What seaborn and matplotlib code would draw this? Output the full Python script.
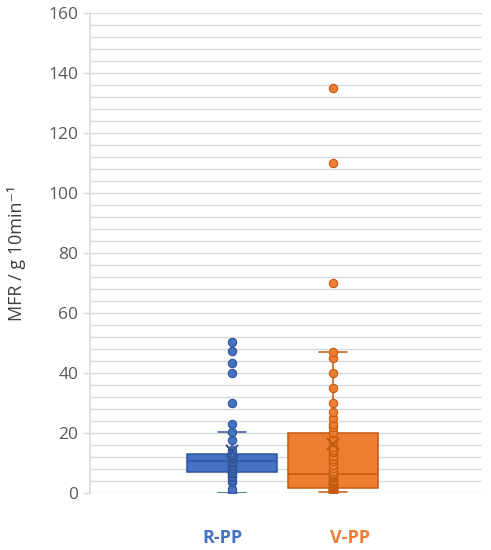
import numpy as np
import pandas as pd
import matplotlib
matplotlib.use('Agg')
import matplotlib.pyplot as plt
import seaborn as sns

# MFR values (many inner points overlap, so estimated)
grades = ['R-PP', 'V-PP']
r_pp = [0.0, 1.5, 3.8, 4.5, 5.2, 5.8, 6.4, 6.6, 6.9, 7.0, 7.1, 7.8, 8.5, 9.1,
        9.5, 10.0, 10.2, 10.5, 10.7, 10.8, 10.8, 11.2, 11.6, 11.9, 12.2, 12.5,
        12.7, 12.9, 13.0, 13.0, 13.0, 13.8, 14.3, 17.7, 20.4, 22.9, 29.9, 39.9,
        43.4, 47.3, 50.3]
v_pp = [0.2, 0.3, 0.5, 0.7, 0.9, 1.0, 1.2, 1.3, 1.4, 1.5, 1.6, 1.7, 1.7, 1.8,
        2.0, 2.3, 2.6, 2.9, 3.2, 3.6, 4.0, 4.5, 5.0, 5.4, 5.8, 6.0, 6.2,
        6.8, 7.5, 8.5, 9.5, 10.8, 11.5, 12.5, 13.8, 14.5, 15.5, 17.0, 18.0, 20.0,
        20.5, 21.9, 23.0, 24.9, 27.0, 29.9, 34.9, 39.9, 45.1, 46.9, 70.0, 110.0,
        135.0]
yticks = list(range(0, 161, 20))

fills = {'R-PP': '#4472C4', 'V-PP': '#ED7D31'}
edges = {'R-PP': '#2F5597', 'V-PP': '#C55A11'}

df = pd.DataFrame({
    'grade': ['R-PP'] * len(r_pp) + ['V-PP'] * len(v_pp),
    'mfr': r_pp + v_pp,
})

sns.set_style('white')
plt.rcParams['font.family'] = ['Open Sans', 'DejaVu Sans']

fig = plt.figure(figsize=(4.91, 5.50), dpi=100)
ax = fig.add_axes([0.1833, 0.1036, 0.7984, 0.8728])

for g in grades:
    sub = df[df['grade'] == g]
    sns.boxplot(data=sub, x='grade', y='mfr', order=grades, color=fills[g],
                linecolor=edges[g], linewidth=1.1, width=0.9, saturation=1,
                showfliers=False, showmeans=True, capwidths=0.27,
                meanprops=dict(marker='x', markeredgecolor=edges[g],
                               markersize=9, markeredgewidth=1.5, zorder=6),
                ax=ax)
    sns.stripplot(data=sub, x='grade', y='mfr', order=grades, color=fills[g],
                  edgecolor=edges[g], linewidth=0.8, size=6, jitter=False,
                  zorder=4, ax=ax)

ax.set_xlim(-1.406, 2.475)
ax.set_ylim(0, 160)
ax.set_yticks(yticks)
ax.set_yticks(np.arange(0, 161, 4), minor=True)
ax.grid(which='both', axis='y', color='#D9D9D9', lw=1)
ax.set_axisbelow(True)
ax.tick_params(axis='y', which='major', length=4.5, width=1, color='#D9D9D9',
               labelsize=12.5, labelcolor='#595959', pad=4, left=True)
ax.tick_params(axis='y', which='minor', length=0)
ax.set_xticks([])
ax.set_xlabel('')
ax.set_ylabel('MFR / g 10min⁻¹', fontsize=13, color='#404040')
ax.yaxis.set_label_coords(-0.162, 0.5)
for s in ['top', 'right', 'bottom']:
    ax.spines[s].set_visible(False)
ax.spines['left'].set_color('#D9D9D9')
ax.spines['left'].set_linewidth(1.2)

fig.text(222 / 491, 0.022, 'R-PP', color=fills['R-PP'], fontsize=13,
         fontweight='bold', ha='center', va='center')
fig.text(350 / 491, 0.022, 'V-PP', color=fills['V-PP'], fontsize=13,
         fontweight='bold', ha='center', va='center')

fig.savefig('out.png', dpi=100)
